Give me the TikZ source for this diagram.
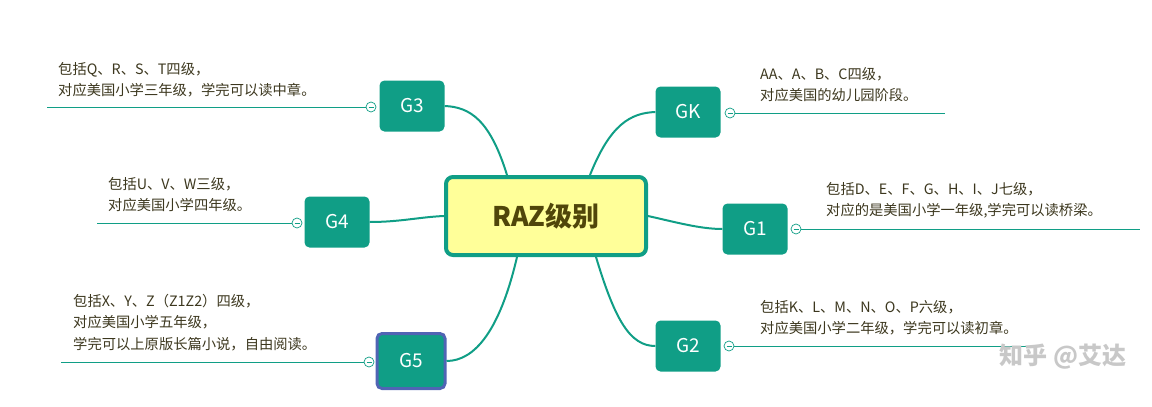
\documentclass[tikz,border=0pt]{standalone}
\usepackage{fontspec}
\setmainfont{Noto Sans CJK SC}
\definecolor{teal1}{RGB}{16,158,134}
\definecolor{txt}{RGB}{60,55,30}
\definecolor{yel}{RGB}{255,255,153}
\begin{document}
\begin{tikzpicture}[x=1pt,y=-1pt,
 g/.style={fill=teal1,rounded corners=5pt,minimum width=65pt,minimum height=51pt,text=white,font=\fontsize{19}{19}\selectfont,inner sep=0},
 lab/.style={anchor=north west,align=left,text=txt,font=\fontsize{14.3}{21.5}\selectfont,inner sep=0},
 br/.style={teal1,line width=2pt},
 ln/.style={teal1,line width=0.8pt},
 cc/.style={circle,draw=teal1,fill=white,minimum size=10pt,inner sep=0,line width=0.7pt}]
\useasboundingbox (0,0) rectangle (1152,407);
\node[draw=teal1,line width=4pt,fill=yel,rounded corners=7pt,minimum width=200pt,minimum height=78pt,font=\fontsize{27}{27}\selectfont\bfseries,text={rgb,255:red,80;green,70;blue,10}] (c) at (546,216) {RAZ级别};
\node[g] (g3) at (412,106) {G3};
\node[g] (g4) at (337,222) {G4};
\node[g,draw={rgb,255:red,80;green,100;blue,180},line width=3pt,minimum width=68pt,minimum height=55pt] (g5) at (411,361) {G5};
\node[g] (gk) at (688,112) {GK};
\node[g] (g1) at (755,229) {G1};
\node[g] (g2) at (688,346) {G2};
\draw[br] (507,175) .. controls (490,120) and (470,107) .. (g3.east);
\draw[br] (c.west) .. controls (420,217) and (400,222) .. (g4.east);
\draw[br] (517,257) .. controls (500,330) and (475,361) .. (g5.east);
\draw[br] (590,175) .. controls (610,125) and (630,113) .. (gk.west);
\draw[br] (c.east) .. controls (675,222) and (700,229) .. (g1.west);
\draw[br] (596,257) .. controls (615,320) and (630,346) .. (g2.west);
\coordinate (e3) at (47,107); \coordinate (e4) at (97,223); \coordinate (e5) at (61,362);
\coordinate (ek) at (945,113); \coordinate (e1) at (1140,229); \coordinate (e2) at (1030,346);
\node[cc] (c3) at (371,107) {}; \node[cc] (c4) at (297,223) {}; \node[cc] (c5) at (369,362) {};
\node[cc] (ck) at (730,113) {}; \node[cc] (c1) at (796,229) {}; \node[cc] (c2) at (729,346) {};
\draw[ln] (c3.west) -- (e3); \draw[ln] (c4.west) -- (e4); \draw[ln] (c5.west) -- (e5);
\draw[ln] (ck.east) -- (ek); \draw[ln] (c1.east) -- (e1); \draw[ln] (c2.east) -- (e2);
\foreach \n in {c3,c4,c5,ck,c1,c2}{\draw[teal1,line width=0.6pt] ([xshift=-2.5pt]\n.center) -- ([xshift=2.5pt]\n.center);}
\node[lab] (t3) at (58,62) {包括Q、R、S、T四级，\\对应美国小学三年级，学完可以读中章。};
\node[lab] (t4) at (108,177) {包括U、V、W三级，\\对应美国小学四年级。};
\node[lab] (t5) at (73,294) {包括X、Y、Z（Z1Z2）四级，\\对应美国小学五年级，\\学完可以上原版长篇小说，自由阅读。};
\node[lab] (tk) at (760,67) {AA、A、B、C四级，\\对应美国的幼儿园阶段。};
\node[lab] (t1) at (826,182) {包括D、E、F、G、H、I、J七级，\\对应的是美国小学一年级,学完可以读桥梁。};
\node[lab] (t2) at (760,300) {包括K、L、M、N、O、P六级，\\对应美国小学二年级，学完可以读初章。};
\node[text={rgb,255:red,200;green,200;blue,200},font=\fontsize{24}{24}\selectfont\bfseries] (wm) at (1063,357) {知乎 @艾达};
\end{tikzpicture}
\end{document}
